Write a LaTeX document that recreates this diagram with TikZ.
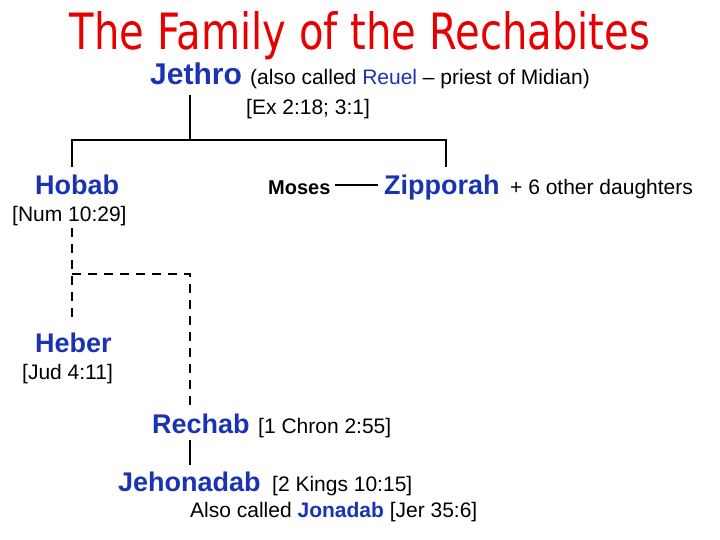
\documentclass[tikz,border=0pt]{standalone}
\usepackage{fontspec}
\setmainfont{Liberation Sans}
\newfontfamily\titlefont{DejaVu Sans}
\definecolor{nm}{RGB}{26,51,179}
\definecolor{tr}{RGB}{230,0,0}
\begin{document}
\begin{tikzpicture}[x=1pt,y=-1pt,
  big/.style={anchor=base west,inner sep=0,font=\fontsize{27}{30}\selectfont\bfseries,text=nm},
  small/.style={anchor=base west,inner sep=0,font=\fontsize{21}{24}\selectfont},
  ln/.style={line width=2pt},
  dl/.style={line width=2pt,dash pattern=on 9pt off 7pt}]
\useasboundingbox (0,0) rectangle (720,540);
\node[anchor=center,inner sep=0,text=tr] (title) at (360,36) {\resizebox{580pt}{38pt}{\titlefont The Family of the Rechabites}};
\node[big,font=\fontsize{30}{32}\selectfont\bfseries] (jethro) at (150,85) {Jethro};
\node[small] (jinfo) at (250,85) {(also called \textcolor{nm}{Reuel} -- priest of Midian)};
\node[small] (jref) at (246,115) {[Ex 2:18; 3:1]};
\node[big] (hobab) at (35,195) {Hobab};
\node[small] (href) at (12,222) {[Num 10:29]};
\node[anchor=base west,inner sep=0,font=\fontsize{20}{22}\selectfont\bfseries] (moses) at (268,195) {Moses};
\node[big] (zip) at (384,195) {Zipporah};
\node[small] (daughters) at (510,195) {+ 6 other daughters};
\node[big] (heber) at (35,352) {Heber};
\node[small] (heref) at (22,379) {[Jud 4:11]};
\node[big] (rechab) at (152,433) {Rechab};
\node[small] (rref) at (258,433) {[1 Chron 2:55]};
\node[big] (jeho) at (118,491) {Jehonadab};
\node[small] (jeref) at (272,491) {[2 Kings 10:15]};
\node[small] (also) at (190,517) {Also called \textcolor{nm}{\textbf{Jonadab}} [Jer 35:6]};
\coordinate (top) at (190,95);
\coordinate (j) at (190,140);
\coordinate (l) at (72,140);
\coordinate (r) at (446,140);
\coordinate (lb) at (72,167);
\coordinate (rb) at (446,167);
\coordinate (m1) at (335,185);
\coordinate (m2) at (378,185);
\draw[ln] (top) -- (j);
\draw[ln] (lb) -- (l) -- (r) -- (rb);
\draw[line width=1.5pt] (m1) -- (m2);
\coordinate (d1) at (72,228);
\coordinate (d2) at (72,320);
\coordinate (d3) at (72,274);
\coordinate (d4) at (190,274);
\coordinate (d5) at (190,405);
\draw[dl] (d1) -- (d2);
\draw[dl] (d3) -- (d4) -- (d5);
\coordinate (s1) at (190,440);
\coordinate (s2) at (190,465);
\draw[ln] (s1) -- (s2);
\end{tikzpicture}
\end{document}
